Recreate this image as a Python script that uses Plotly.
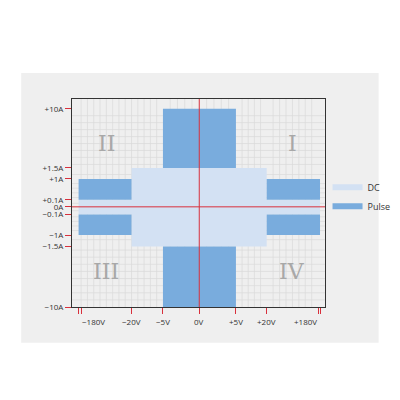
import numpy as np
import plotly.graph_objects as go

# axis breakpoints (value -> screen position, non-linear scale)
v_vals = [-200, -180, -20, -5, 0, 5, 20, 180, 200]
v_pos = [71, 73.7, 127.3, 160.7, 199.3, 238.3, 271, 325.7, 327.7]
v_labels = ["\u2212200V", "\u2212180V", "\u221220V", "\u22125V", "0V", "+5V", "+20V", "+180V", "+200V"]
v_label_pos = [52, 87, 127.3, 160.7, 199.3, 238.3, 271, 312, 343]

i_vals = [-10, -1.5, -1, -0.1, 0, 0.1, 1, 1.5, 10]
i_pos = [299.3, 238.7, 227.3, 206.7, 199, 192, 171, 160, 100.7]
i_labels = ["\u221210A", "\u22121.5A", "\u22121A", "\u22120.1A", "0A", "+0.1A", "+1A", "+1.5A", "+10A"]

# operating regions: (V0, V1, I0, I1)
dc_regions = [(-20, 20, -1.5, 1.5), (-200, 200, -0.1, 0.1)]
pulse_regions = [(-5, 5, 1.5, 10), (-5, 5, -10, -1.5),
                 (-200, -20, 0.1, 1), (20, 200, 0.1, 1),
                 (-200, -20, -1, -0.1), (20, 200, -1, -0.1)]

quadrants = [("II", -100, 5), ("I", 100, 5), ("III", -100, -5), ("IV", 100, -5)]

vx = lambda v: float(np.interp(v, v_vals, v_pos))
iy = lambda i: float(np.interp(i, i_vals, i_pos))

DC = "#d3e1f3"
PULSE = "#79acdd"
RED = "#d8303c"
X0, X1, Y0, Y1 = 64, 333, 299.3, 91

fig = go.Figure()

def add_regions(regions, color, name):
    for k, (a, b, c, d) in enumerate(regions):
        xs = [vx(a), vx(b), vx(b), vx(a), vx(a)]
        ys = [iy(c), iy(c), iy(d), iy(d), iy(c)]
        fig.add_trace(go.Scatter(x=xs, y=ys, fill="toself", fillcolor=color, mode="none",
                                 name=name, legendgroup=name, showlegend=(k == 0),
                                 hoverinfo="skip"))

add_regions(dc_regions, DC, "DC")
add_regions(pulse_regions, PULSE, "Pulse")

shapes = []
# decorative minor grid
gv = list(range(-180, -20, 20)) + list(range(-20, -5, 3)) + [-4, -3, -2, -1] + \
     [1, 2, 3, 4] + list(range(8, 20, 3)) + list(range(40, 180, 20))
gi = [2, 3, 4, 5, 6, 7, 8, 9, 1.2, 0.2, 0.4, 0.6, 0.8, 0.05]
for v in gv:
    shapes.append(dict(type="line", x0=vx(v), x1=vx(v), y0=Y1, y1=Y0, layer="below",
                       line=dict(color="#dadada", width=0.7)))
for i in gi + [-g for g in gi]:
    shapes.append(dict(type="line", x0=X0, x1=X1, y0=iy(i), y1=iy(i), layer="below",
                       line=dict(color="#dadada", width=0.7)))
# outer grey panel
W, H = X1 - X0, Y0 - Y1
shapes.append(dict(type="rect", xref="paper", yref="paper", x0=(10 - X0) / W, x1=(390 - X0) / W,
                   y0=(Y0 - 335) / H, y1=(Y0 - 65) / H, fillcolor="#efefef",
                   line=dict(width=0), layer="below"))
# zero axes
shapes.append(dict(type="line", x0=vx(0), x1=vx(0), y0=Y1, y1=Y0, line=dict(color=RED, width=1)))
shapes.append(dict(type="line", x0=X0, x1=X1, y0=iy(0), y1=iy(0), line=dict(color=RED, width=1)))

annotations = []
for lab, p in zip(v_labels, v_label_pos):
    annotations.append(dict(x=p, xref="x", y=(Y0 - 306) / H, yref="paper", text=lab,
                            showarrow=False, yanchor="top", font=dict(size=8, color="#333")))
for lab, v, i in quadrants:
    annotations.append(dict(x=vx(v), y=iy(i), text=lab, showarrow=False,
                            font=dict(family="DejaVu Serif", size=22, color="#a8a8a8")))

axis_common = dict(showgrid=False, zeroline=False, showline=True, linecolor="#333", linewidth=1,
                   mirror=True, ticks="outside", tickcolor=RED, ticklen=6, tickwidth=1.2,
                   automargin=False)

fig.update_layout(
    width=400, height=400, margin=dict(l=X0, r=400 - X1, t=Y1, b=400 - Y0),
    paper_bgcolor="white", plot_bgcolor="#efefef",
    font=dict(family="Open Sans", size=8, color="#333"),
    xaxis=dict(range=[X0, X1], tickvals=v_pos, showticklabels=False, **axis_common),
    yaxis=dict(range=[Y0, Y1], tickvals=i_pos, ticktext=i_labels, **axis_common),
    legend=dict(x=1.01, y=0.53, yanchor="middle", bgcolor="rgba(0,0,0,0)",
                font=dict(size=9), tracegroupgap=0),
    shapes=shapes, annotations=annotations,
)

fig.write_html("out.html")
